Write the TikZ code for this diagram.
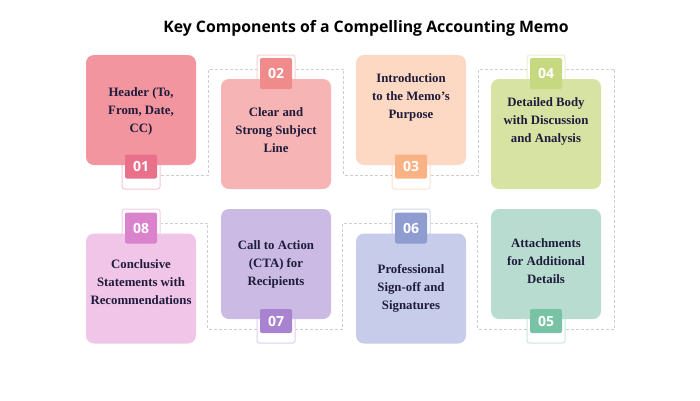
\documentclass[tikz,border=0pt]{standalone}
\usepackage{fontspec}
\setmainfont{Liberation Serif}
\newfontfamily\titlefont{Open Sans}
\usetikzlibrary{calc}
\definecolor{cardA}{HTML}{F2959F}\definecolor{badA}{HTML}{E8708B}
\definecolor{cardB}{HTML}{F7B4B4}\definecolor{badB}{HTML}{F08B8B}
\definecolor{cardC}{HTML}{FDD9C3}\definecolor{badC}{HTML}{F8B284}
\definecolor{cardD}{HTML}{D7E3A3}\definecolor{badD}{HTML}{C6D980}
\definecolor{cardE}{HTML}{B8DDD0}\definecolor{badE}{HTML}{78C3A5}
\definecolor{cardF}{HTML}{C6CCE9}\definecolor{badF}{HTML}{8F9CD0}
\definecolor{cardG}{HTML}{CABAE4}\definecolor{badG}{HTML}{A884D0}
\definecolor{cardH}{HTML}{F1C5E7}\definecolor{badH}{HTML}{DB82CD}
\definecolor{txt}{HTML}{1E1B3B}
\definecolor{linec}{HTML}{CFCFCF}
\begin{document}
\begin{tikzpicture}[x=1pt,y=-1pt,
  card/.style={rounded corners=8pt, minimum width=110pt, minimum height=110pt, inner sep=0pt},
  frm/.style={draw=#1!40, fill=white, line width=1pt, rounded corners=2.5pt, minimum width=38pt, minimum height=37pt, inner sep=0pt},
  badge/.style={fill=#1, rounded corners=2pt, minimum width=32pt, inner sep=0pt, text=white, font=\titlefont\bfseries\fontsize{14}{14}\selectfont},
  lowbadge/.style={badge=#1, minimum height=24pt},
  topbadge/.style={badge=#1, minimum height=31pt},
  lbl/.style={align=center, text=txt, inner sep=0pt, font=\bfseries\fontsize{12.8}{18}\selectfont},
  conn/.style={draw=linec, dash pattern=on 3pt off 2pt, line width=0.9pt},
  title/.style={text=black, font=\titlefont\bfseries\fontsize{15.8}{18}\selectfont}]
\useasboundingbox[fill=white] (0,0) rectangle (700,400);

\node[title] (ttl) at (366,28) {Key Components of a Compelling Accounting Memo};

% frames
\node[frm=badA] (f1) at (141,170.5) {};
\node[frm=badB] (f2) at (276,73.5) {};
\node[frm=badC] (f3) at (411,170.5) {};
\node[frm=badD] (f4) at (546,73.5) {};
\node[frm=badE] (f5) at (546,324.5) {};
\node[frm=badF] (f6) at (411,227.5) {};
\node[frm=badG] (f7) at (276,324.5) {};
\node[frm=badH] (f8) at (141,227.5) {};

% connectors
\draw[conn] ($(f1.east)+(0,4.5)$) -- ++(48,0) |- ($(f2.west)+(0,-4.5)$);
\draw[conn] ($(f2.east)+(0,-4.5)$) -- ++(48,0) |- ($(f3.west)+(0,4.5)$);
\draw[conn] ($(f3.east)+(0,4.5)$) -- ++(48,0) |- ($(f4.west)+(0,-4.5)$);
\draw[conn] ($(f4.east)+(0,-4.5)$) -- ++(49,0) |- ($(f5.east)+(0,4.5)$);
\draw[conn] ($(f5.west)+(0,4.5)$) -- ++(-49,0) |- ($(f6.east)+(0,-4.5)$);
\draw[conn] ($(f6.west)+(0,-4.5)$) -- ++(-49,0) |- ($(f7.east)+(0,4.5)$);
\draw[conn] ($(f7.west)+(0,4.5)$) -- ++(-49,0) |- ($(f8.east)+(0,-4.5)$);

% cards
\node[card, fill=cardA] (c1) at (141,110) {};
\node[card, fill=cardB] (c2) at (276,134) {};
\node[card, fill=cardC] (c3) at (411,110) {};
\node[card, fill=cardD] (c4) at (546,134) {};
\node[card, fill=cardE] (c5) at (546,264) {};
\node[card, fill=cardF] (c6) at (411,288.5) {};
\node[card, fill=cardG] (c7) at (276,264) {};
\node[card, fill=cardH] (c8) at (141,288.5) {};

% badges
\node[lowbadge=badA] (b1) at (141,166.5) {01};
\node[topbadge=badB] (b2) at (276,73.5) {02};
\node[lowbadge=badC] (b3) at (411,166.5) {03};
\node[topbadge=badD] (b4) at (546,73.5) {04};
\node[lowbadge=badE] (b5) at (546,321) {05};
\node[topbadge=badF] (b6) at (411,228) {06};
\node[lowbadge=badG] (b7) at (276,321) {07};
\node[topbadge=badH] (b8) at (141,228) {08};

% labels
\node[lbl] (t1) at (141,111) {Header (To,\\From, Date,\\CC)};
\node[lbl] (t2) at (276,130) {Clear and\\Strong Subject\\Line};
\node[lbl] (t3) at (411,97) {Introduction\\to the Memo’s\\Purpose};
\node[lbl] (t4) at (546,121) {Detailed Body\\with Discussion\\and Analysis};
\node[lbl] (t5) at (546,261) {Attachments\\for Additional\\Details};
\node[lbl] (t6) at (411,288) {Professional\\Sign-off and\\Signatures};
\node[lbl] (t7) at (276,264) {Call to Action\\(CTA) for\\Recipients};
\node[lbl] (t8) at (141,282) {Conclusive\\Statements with\\Recommendations};
\end{tikzpicture}
\end{document}
